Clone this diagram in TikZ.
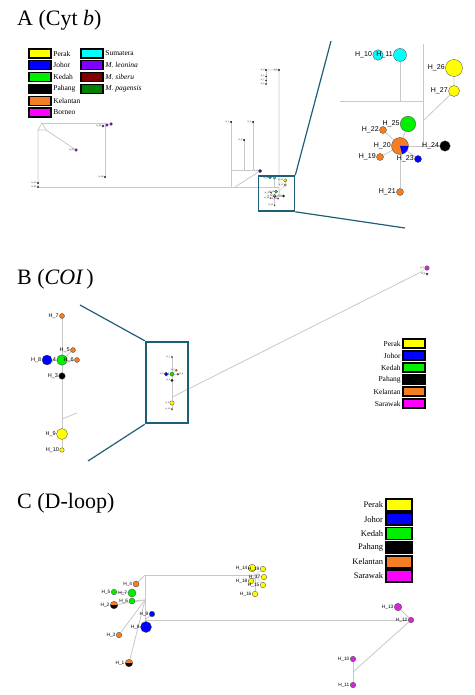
\documentclass[tikz,border=0pt]{standalone}
\usepackage{fontspec}
\setmainfont{Liberation Serif}
\newfontfamily\arialfont{Liberation Sans}
\usepackage{tikz}
\usetikzlibrary{positioning,backgrounds}

\definecolor{cperak}{RGB}{255,255,0}
\definecolor{cjohor}{RGB}{0,0,255}
\definecolor{ckedah}{RGB}{0,240,0}
\definecolor{ckelantan}{RGB}{245,125,35}
\definecolor{cborneo}{RGB}{255,0,255}
\definecolor{csarawak}{RGB}{215,40,215}
\definecolor{csumatera}{RGB}{0,255,255}
\definecolor{cleonina}{RGB}{128,0,255}
\definecolor{csiberu}{RGB}{128,0,0}
\definecolor{cpagensis}{RGB}{0,128,0}
\definecolor{zoomteal}{RGB}{30,95,120}
\definecolor{branchgray}{RGB}{200,200,200}

\begin{document}
\begin{tikzpicture}[x=1pt,y=-1pt,
    hap/.style={circle,draw=black!75,line width=0.3pt,inner sep=0pt,minimum size=#1},
    halfhap/.style={hap=#1,fill=ckelantan,path picture={\fill[black] (path picture bounding box.west) rectangle (path picture bounding box.south east);}},
    treeline/.style={draw=branchgray,line width=0.8pt},
    zoombox/.style={draw=zoomteal,line width=#1,inner sep=0pt},
    zoomline/.style={draw=zoomteal,line width=1.2pt}]
  \tikzstyle{paneltitle} = [font=\fontsize{22}{26}\selectfont,anchor=west,inner sep=0pt]
  \tikzstyle{keybox} = [draw=black,line width=1.3pt,minimum width=22pt,minimum height=9pt,inner sep=0pt]
  \tikzstyle{bigkeybox} = [draw=black,line width=1.5pt,minimum width=26pt,minimum height=12pt,inner sep=0pt]
  \tikzstyle{keytxt} = [font=\fontsize{7.5}{8}\selectfont,inner sep=1pt]
  \tikzstyle{bigkeytxt} = [font=\fontsize{8.5}{9}\selectfont,inner sep=1.5pt]
  \tikzstyle{labA} = [font=\arialfont\fontsize{7}{8}\selectfont,inner sep=0.5pt]
  \tikzstyle{labB} = [font=\arialfont\fontsize{5.5}{6}\selectfont,inner sep=0.5pt]
  \tikzstyle{labC} = [font=\arialfont\fontsize{4.8}{5}\selectfont,inner sep=0.5pt]
  \tikzstyle{labT} = [font=\arialfont\fontsize{2}{2}\selectfont,inner sep=0.3pt]
  \useasboundingbox (0,0) rectangle (474,695);

  \node[paneltitle] (titleA) at (17,20) {A (Cyt \textit{b})};
  \node[paneltitle] (titleB) at (17,279) {B (\textit{COI\,})};
  \node[paneltitle] (titleC) at (17,503) {C (D-loop)};

  \node[keybox,fill=cperak] (kaPerak) at (40,53.5) {};
  \node[keybox,fill=cjohor,below=1.5pt of kaPerak] (kaJohor) {};
  \node[keybox,fill=ckedah,below=1.5pt of kaJohor] (kaKedah) {};
  \node[keybox,fill=black,below=1.5pt of kaKedah] (kaPahang) {};
  \node[keybox,fill=ckelantan,below=1.5pt of kaPahang] (kaKelantan) {};
  \node[keybox,fill=cborneo,below=1.5pt of kaKelantan] (kaBorneo) {};
  \node[keybox,fill=csumatera] (kaSumatera) at (92,53.5) {};
  \node[keybox,fill=cleonina,below=1.5pt of kaSumatera] (kaLeonina) {};
  \node[keybox,fill=csiberu,below=1.5pt of kaLeonina] (kaSiberu) {};
  \node[keybox,fill=cpagensis,below=1.5pt of kaSiberu] (kaPagensis) {};
  \node[keytxt,right=0.5pt of kaPerak] (taPerak) {Perak};
  \node[keytxt,right=0.5pt of kaJohor] (taJohor) {Johor};
  \node[keytxt,right=0.5pt of kaKedah] (taKedah) {Kedah};
  \node[keytxt,right=0.5pt of kaPahang] (taPahang) {Pahang};
  \node[keytxt,right=0.5pt of kaKelantan] (taKelantan) {Kelantan};
  \node[keytxt,right=0.5pt of kaBorneo] (taBorneo) {Borneo};
  \node[keytxt,right=0.5pt of kaSumatera] (taSumatera) {Sumatera};
  \node[keytxt,right=0.5pt of kaLeonina] (taLeonina) {\textit{M. leonina}};
  \node[keytxt,right=0.5pt of kaSiberu] (taSiberu) {\textit{M. siberu}};
  \node[keytxt,right=0.5pt of kaPagensis] (taPagensis) {\textit{M. pagensis}};

  \node[hap=1.8pt,fill=black!80,label={[labT]left:H\_30}] (a30) at (38,183) {};
  \node[hap=1.8pt,fill=black!80,label={[labT]left:H\_31}] (a31) at (38,187) {};
  \node[hap=3pt,fill=cleonina,label={[labT]left:H\_29}] (a29) at (76,150) {};
  \node[hap=2.2pt,fill=cleonina!70!black,label={[labT]left:H\_32}] (a32) at (103,126) {};
  \node[hap=2.6pt,fill=cleonina] (a33) at (107,125) {};
  \node[hap=3pt,fill=cleonina!80!black] (a34) at (111,124) {};
  \node[hap=1.8pt,fill=black,label={[labT]left:H\_28}] (a28) at (105,177) {};
  \node[hap=2pt,fill=black,label={[labT]left:H\_1}] (a1) at (231,122) {};
  \node[hap=2pt,fill=black,label={[labT]left:H\_2}] (a2) at (253,122) {};
  \node[hap=2pt,fill=black,label={[labT]left:H\_3}] (a3) at (244,140) {};
  \node[hap=3.5pt,fill=cleonina!60!black,label={[labT]left:H\_9}] (a9) at (260,171) {};
  \node[hap=1.8pt,fill=black,label={[labT]left:H\_4}] (a4) at (266,70) {};
  \node[hap=1.8pt,fill=black,label={[labT]left:H\_5}] (a5) at (279,70) {};
  \node[hap=1.5pt,fill=black,label={[labT]left:H\_6}] (a6) at (266,76.5) {};
  \node[hap=1.5pt,fill=black,label={[labT]left:H\_7}] (a7) at (266,80.5) {};
  \node[hap=1.5pt,fill=black,label={[labT]left:H\_8}] (a8) at (266,84) {};

  \coordinate (aB1) at (38,130);
  \coordinate (aB2) at (42,123);
  \coordinate (aB3) at (46,130);
  \coordinate (aB4) at (105,123);
  \coordinate (aC1) at (231,187);
  \coordinate (aC3) at (231,170);
  \coordinate (aC4) at (244,170);
  \coordinate (aC5) at (253,170);
  \coordinate (aC6) at (235,187);

  \node[hap=10.5pt,fill=csumatera,label={[labA]left:H\_10}] (h10) at (378,55) {};
  \node[hap=13pt,fill=csumatera,label={[labA]left:H\_11}] (h11) at (400,55) {};
  \node[hap=17pt,fill=cperak,label={[labA]left:H\_26}] (h26) at (454,68) {};
  \node[hap=11pt,fill=cperak,label={[labA]left:H\_27}] (h27) at (454,91) {};
  \node[hap=15.5pt,fill=ckedah,label={[labA]left:H\_25}] (h25) at (408,124) {};
  \node[hap=7pt,fill=ckelantan,label={[labA]left:H\_22}] (h22) at (383,130) {};
  \node[hap=17pt,fill=ckelantan,label={[labA]left:H\_20}] (h20) at (400,146) {};
  \fill[cjohor] (h20.center) -- ++(0:8.2) arc (0:75:8.2) -- cycle;
  \node[hap=7pt,fill=ckelantan,label={[labA]left:H\_19}] (h19) at (380,157) {};
  \node[hap=7pt,fill=cjohor,label={[labA]left:H\_23}] (h23) at (418,159) {};
  \node[hap=10.5pt,fill=black,label={[labA]left:H\_24}] (h24) at (445,146) {};
  \node[hap=7pt,fill=ckelantan,label={[labA]left:H\_21}] (h21) at (400,192) {};
  \coordinate (iL) at (340,101);
  \coordinate (iH) at (400,101);
  \coordinate (iJ) at (423,101);
  \coordinate (iT) at (423,44);
  \coordinate (iD) at (423,121);
  \coordinate (iK) at (423,147);

  \node[hap=2.1pt,fill=csumatera,label={[labT]left:H\_10}] (m10) at (270.1,177.8) {};
  \node[hap=2.6pt,fill=csumatera,label={[labT]left:H\_11}] (m11) at (274.5,177.8) {};
  \node[hap=3.4pt,fill=cperak,label={[labT]left:H\_26}] (m26) at (285.3,180.4) {};
  \node[hap=2.2pt,fill=cperak,label={[labT]left:H\_27}] (m27) at (285.3,185) {};
  \node[hap=3.1pt,fill=ckedah,label={[labT]left:H\_25}] (m25) at (276.1,191.6) {};
  \node[hap=1.4pt,fill=ckelantan,label={[labT]left:H\_22}] (m22) at (271.1,192.8) {};
  \node[hap=3.4pt,fill=ckelantan,label={[labT]left:H\_20}] (m20) at (274.5,196) {};
  \fill[cjohor] (m20.center) -- ++(0:1.6) arc (0:75:1.6) -- cycle;
  \node[hap=1.4pt,fill=ckelantan,label={[labT]left:H\_19}] (m19) at (270.5,198.2) {};
  \node[hap=1.4pt,fill=cjohor,label={[labT]left:H\_23}] (m23) at (278.1,198.6) {};
  \node[hap=2.1pt,fill=black,label={[labT]left:H\_24}] (m24) at (283.5,196) {};
  \node[hap=1.4pt,fill=ckelantan,label={[labT]left:H\_21}] (m21) at (274.5,205.2) {};
  \coordinate (mH) at (274.5,187);
  \coordinate (mJ) at (279.1,187);
  \coordinate (mD) at (279.1,191);
  \coordinate (mK) at (279.1,196.2);

  \node[zoombox=1.6pt,minimum width=36pt,minimum height=35pt] (boxA) at (276.5,193.5) {};
  \coordinate (zA1) at (331,41);
  \coordinate (zA2) at (405,228);
  \draw[zoomline] (boxA.north east) -- (zA1);
  \draw[zoomline] (boxA.south east) -- (zA2);

  \begin{scope}[on background layer]
    \draw[treeline] (a31) -- (aB1) -- (aB2) -- (aB3) -- (aB1);
    \draw[treeline] (aB2) -- (aB4) -- (a28);
    \draw[treeline] (aB3) -- (a29);
    \draw[treeline] (aB4) -- (a33);
    \draw[treeline] (a31) -- (mJ);
    \draw[treeline] (a1) -- (aC1);
    \draw[treeline] (aC3) -- (aC5);
    \draw[treeline] (a3) -- (aC4);
    \draw[treeline] (a2) -- (aC5);
    \draw[treeline] (aC6) -- (a9);
    \draw[treeline] (a4) -- (a5) -- (mK);
    \draw[treeline,line width=0.4pt] (a4) -- (a8);
    \draw[treeline,line width=0.4pt] (m11) -- (mH);
    \draw[treeline,line width=0.4pt] (m26) -- (m27) -- (mD);
    \draw[treeline,line width=0.4pt] (m20) -- (m24);
    \draw[treeline,line width=0.4pt] (m20) -- (m21);
    \draw[treeline,line width=0.4pt] (m20) -- (m22);
    \draw[treeline,line width=0.4pt] (m20) -- (m19);
    \draw[treeline,line width=0.4pt] (m20) -- (m23);
    \draw[treeline,line width=0.4pt] (m20) -- (m25);
    \draw[treeline] (iL) -- (iJ);
    \draw[treeline] (iT) -- (iK);
    \draw[treeline] (h11) -- (iH);
    \draw[treeline] (h26) -- (h27) -- (iD);
    \draw[treeline] (h20) -- (h24);
    \draw[treeline] (h20) -- (h21);
    \draw[treeline] (h20) -- (h22);
    \draw[treeline] (h20) -- (h19);
    \draw[treeline] (h20) -- (h23);
    \draw[treeline] (h20) -- (h25);
  \end{scope}

  \node[hap=5pt,fill=ckelantan,label={[labB]left:H\_7}] (b7) at (62,316) {};
  \node[hap=10.5pt,fill=ckedah,label={[labB]left:H\_4}] (b4) at (62,360) {};
  \node[hap=10pt,fill=cjohor,label={[labB]left:H\_8}] (b8) at (47,360) {};
  \node[hap=5pt,fill=ckelantan,label={[labB]left:H\_5}] (b5) at (73,350) {};
  \node[hap=5pt,fill=ckelantan,label={[labB]left:H\_6}] (b6) at (77,360) {};
  \node[hap=6.5pt,fill=black,label={[labB]left:H\_3}] (b3) at (62,376) {};
  \node[hap=11pt,fill=cperak,label={[labB]left:H\_9}] (b9) at (62,434) {};
  \node[hap=4.5pt,fill=cperak,label={[labB]left:H\_10}] (b10) at (62,450) {};
  \coordinate (bJ) at (62,419);
  \coordinate (bE) at (77,413);

  \node[hap=2pt,fill=ckelantan,label={[labT]left:H\_7}] (n7) at (172,357) {};
  \node[hap=4pt,fill=ckedah,label={[labT]left:H\_4}] (n4) at (172,374.2) {};
  \node[hap=3.9pt,fill=cjohor,label={[labT]left:H\_8}] (n8) at (166.2,374.2) {};
  \node[hap=2pt,fill=ckelantan,label={[labT]left:H\_5}] (n5) at (176.3,370.3) {};
  \node[hap=2pt,fill=ckelantan,label={[labT]right:H\_6}] (n6) at (177.9,374.2) {};
  \node[hap=2.5pt,fill=black,label={[labT]left:H\_3}] (n3) at (172,380.4) {};
  \node[hap=4.3pt,fill=cperak,label={[labT]left:H\_9}] (n9) at (172,403) {};
  \node[hap=1.8pt,fill=cperak,label={[labT]left:H\_10}] (n10) at (172,409.3) {};
  \coordinate (nJ) at (172,397.2);

  \node[hap=4.5pt,fill=csarawak,label={[labT]left:H\_1}] (b1) at (427,268) {};
  \node[hap=2.5pt,fill=csarawak!70!black,label={[labT]left:H\_2}] (b2) at (427,274) {};
  \coordinate (bK) at (421,272);

  \node[zoombox=2.5pt,minimum width=42pt,minimum height=81pt] (boxB) at (167,382.5) {};
  \coordinate (zB1) at (80,305);
  \coordinate (zB2) at (88,461);
  \draw[zoomline] (boxB.north west) -- (zB1);
  \draw[zoomline] (boxB.south west) -- (zB2);

  \begin{scope}[on background layer]
    \draw[treeline] (b7) -- (b4);
    \draw[treeline] (b4) -- (b3);
    \draw[treeline] (b3) -- (b9);
    \draw[treeline] (b9) -- (b10);
    \draw[treeline] (b8) -- (b4);
    \draw[treeline] (b4) -- (b6);
    \draw[treeline] (b4) -- (b5);
    \draw[treeline] (bJ) -- (bE);
    \draw[treeline,line width=0.4pt] (n7) -- (n4) -- (n3) -- (n9) -- (n10);
    \draw[treeline,line width=0.4pt] (n8) -- (n4) -- (n6);
    \draw[treeline,line width=0.4pt] (n4) -- (n5);
    \draw[treeline] (nJ) -- (bK);
    \draw[treeline,line width=0.4pt] (bK) -- (b1);
    \draw[treeline,line width=0.4pt] (bK) -- (b2);
  \end{scope}

  \node[keybox,fill=cperak] (kbPerak) at (414,343.5) {};
  \node[keybox,fill=cjohor,below=1.7pt of kbPerak] (kbJohor) {};
  \node[keybox,fill=ckedah,below=1.7pt of kbJohor] (kbKedah) {};
  \node[keybox,fill=black,below=1.7pt of kbKedah] (kbPahang) {};
  \node[keybox,fill=ckelantan,below=1.7pt of kbPahang] (kbKelantan) {};
  \node[keybox,fill=cborneo,below=1.7pt of kbKelantan] (kbSarawak) {};
  \node[keytxt,left=0.5pt of kbPerak] (tbPerak) {Perak};
  \node[keytxt,left=0.5pt of kbJohor] (tbJohor) {Johor};
  \node[keytxt,left=0.5pt of kbKedah] (tbKedah) {Kedah};
  \node[keytxt,left=0.5pt of kbPahang] (tbPahang) {Pahang};
  \node[keytxt,left=0.5pt of kbKelantan] (tbKelantan) {Kelantan};
  \node[keytxt,left=0.5pt of kbSarawak] (tbSarawak) {Sarawak};

  \node[hap=6pt,fill=ckelantan,label={[labC]left:H\_4}] (c4) at (136,584) {};
  \node[hap=5.5pt,fill=ckedah,label={[labC]left:H\_5}] (c5) at (114,592) {};
  \node[hap=8pt,fill=ckedah,label={[labC]left:H\_7}] (c7) at (132,593) {};
  \node[hap=6pt,fill=ckedah,label={[labC]left:H\_6}] (c6) at (132,601) {};
  \node[halfhap=7.5pt,label={[labC]left:H\_2}] (c2) at (114,605) {};
  \node[hap=5.5pt,fill=cjohor,label={[labC]left:H\_9}] (c9) at (152,614) {};
  \node[hap=11pt,fill=cjohor,label={[labC]left:H\_8}] (c8) at (146,627) {};
  \node[hap=5.5pt,fill=ckelantan,label={[labC]left:H\_3}] (c3) at (119,635) {};
  \node[halfhap=7.5pt,label={[labC]left:H\_1}] (c1) at (129,663) {};
  \node[hap=7.5pt,fill=cperak,label={[labC]left:H\_14}] (c14) at (252,568) {};
  \node[hap=5.5pt,fill=cperak,label={[labC]left:H\_19}] (c19) at (263,569) {};
  \node[hap=5.5pt,fill=cperak,label={[labC]left:H\_17}] (c17) at (264,577) {};
  \node[hap=5.5pt,fill=cperak,label={[labC]left:H\_18}] (c18) at (251,581) {};
  \node[hap=5.5pt,fill=cperak,label={[labC]left:H\_15}] (c15) at (263,585) {};
  \node[hap=5.5pt,fill=cperak,label={[labC]left:H\_16}] (c16) at (255,594) {};
  \node[hap=7.5pt,fill=csarawak,label={[labC]left:H\_13}] (c13) at (398,607) {};
  \node[hap=5.5pt,fill=csarawak,label={[labC]left:H\_12}] (c12) at (411,620) {};
  \node[hap=5.5pt,fill=csarawak,label={[labC]left:H\_10}] (c10) at (353,659) {};
  \node[hap=5.5pt,fill=csarawak,label={[labC]left:H\_11}] (c11) at (353,685) {};
  \coordinate (cA) at (145,575);
  \coordinate (cB) at (145,600);
  \coordinate (cC) at (145,620);
  \coordinate (cJ) at (255,575);
  \coordinate (cD) at (353,672);

  \begin{scope}[on background layer]
    \draw[treeline] (cJ) -- (cA) -- (cC) -- (c12);
    \draw[treeline] (cA) -- (c4);
    \draw[treeline] (c5) -- (c7);
    \draw[treeline] (c7) -- (c6) -- (cB);
    \draw[treeline] (c2) -- (cB);
    \draw[treeline] (cB) -- (c3);
    \draw[treeline] (cB) -- (c1);
    \draw[treeline] (cC) -- (c9);
    \draw[treeline] (cC) -- (c8);
    \draw[treeline,line width=0.5pt] (cJ) -- (c14);
    \draw[treeline,line width=0.5pt] (cJ) -- (c19);
    \draw[treeline,line width=0.5pt] (cJ) -- (c17);
    \draw[treeline,line width=0.5pt] (cJ) -- (c18);
    \draw[treeline,line width=0.5pt] (cJ) -- (c15);
    \draw[treeline,line width=0.5pt] (cJ) -- (c16);
    \draw[treeline] (c12) -- (c13);
    \draw[treeline] (c12) -- (cD);
    \draw[treeline] (c10) -- (c11);
  \end{scope}

  \node[bigkeybox,fill=cperak] (kcPerak) at (399,505) {};
  \node[bigkeybox,fill=cjohor,below=0.7pt of kcPerak] (kcJohor) {};
  \node[bigkeybox,fill=ckedah,below=0.7pt of kcJohor] (kcKedah) {};
  \node[bigkeybox,fill=black,below=0.7pt of kcKedah] (kcPahang) {};
  \node[bigkeybox,fill=ckelantan,below=0.7pt of kcPahang] (kcKelantan) {};
  \node[bigkeybox,fill=cborneo,below=0.7pt of kcKelantan] (kcSarawak) {};
  \node[bigkeytxt,left=0.5pt of kcPerak] (tcPerak) {Perak};
  \node[bigkeytxt,left=0.5pt of kcJohor] (tcJohor) {Johor};
  \node[bigkeytxt,left=0.5pt of kcKedah] (tcKedah) {Kedah};
  \node[bigkeytxt,left=0.5pt of kcPahang] (tcPahang) {Pahang};
  \node[bigkeytxt,left=0.5pt of kcKelantan] (tcKelantan) {Kelantan};
  \node[bigkeytxt,left=0.5pt of kcSarawak] (tcSarawak) {Sarawak};
\end{tikzpicture}
\end{document}
